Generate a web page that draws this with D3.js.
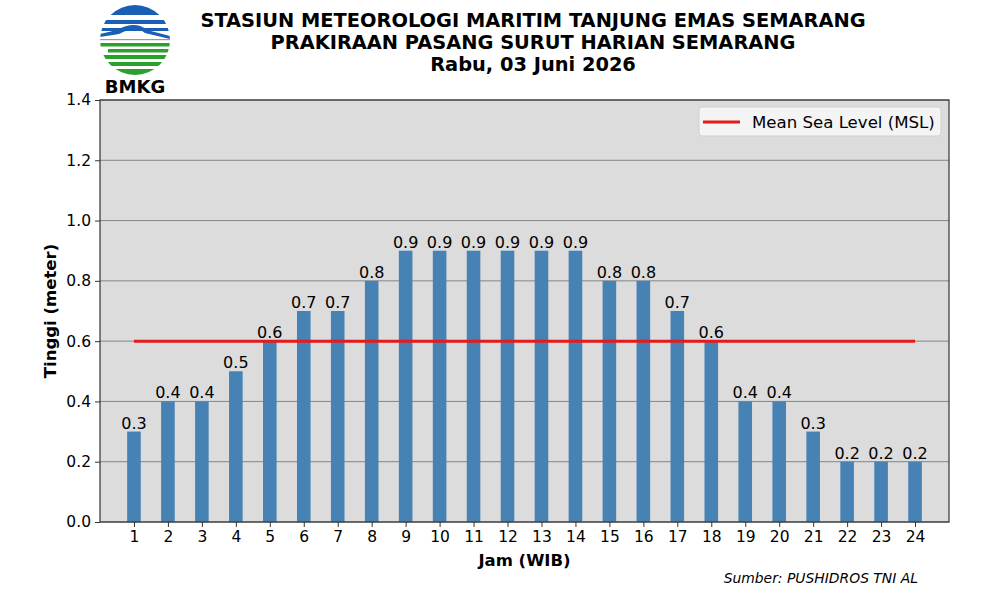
<!DOCTYPE html>
<html>
<head>
<meta charset="utf-8">
<script src="https://cdn.jsdelivr.net/npm/d3@7"></script>
<style>
  body { margin: 0; background: #fff; }
  svg text { font-family: "DejaVu Sans", sans-serif; }
</style>
</head>
<body>
<div id="chart"></div>
<script>
// data
const hours = d3.range(1, 25);
const tinggi = [0.3, 0.4, 0.4, 0.5, 0.6, 0.7, 0.7, 0.8, 0.9, 0.9, 0.9, 0.9,
                0.9, 0.9, 0.8, 0.8, 0.7, 0.6, 0.4, 0.4, 0.3, 0.2, 0.2, 0.2];
const msl = 0.6;
const yTicks = [0, 0.2, 0.4, 0.6, 0.8, 1.0, 1.2, 1.4];
const titles = ["STASIUN METEOROLOGI MARITIM TANJUNG EMAS SEMARANG",
                "PRAKIRAAN PASANG SURUT HARIAN SEMARANG",
                "Rabu, 03 Juni 2026"];

/** CONSTANTS */
const width = 1000, height = 600;
const margins = {top: 100, bottom: 78, left: 100, right: 51};

const svg = d3.select("#chart").append("svg")
  .attr("width", width).attr("height", height);

/** SCALES */
const xScale = d3.scaleLinear().domain([0, 25]).range([margins.left, width - margins.right]);
const yScale = d3.scaleLinear().domain([0, 1.4]).range([height - margins.bottom, margins.top]);
const barW = xScale(0.4) - xScale(0);

// plot background
svg.append("rect")
  .attr("x", margins.left).attr("y", margins.top)
  .attr("width", xScale(25) - xScale(0)).attr("height", yScale(0) - yScale(1.4))
  .attr("fill", "#dcdcdc");

// grid
svg.selectAll("line.grid")
  .data(yTicks)
  .join("line")
  .attr("class", "grid")
  .attr("x1", xScale(0)).attr("x2", xScale(25))
  .attr("y1", d => yScale(d)).attr("y2", d => yScale(d))
  .attr("stroke", "#858585").attr("stroke-width", 1);

// bars
svg.selectAll("rect.bar")
  .data(hours)
  .join("rect")
  .attr("class", "bar")
  .attr("x", (d) => xScale(d) - barW / 2)
  .attr("y", (d, i) => yScale(tinggi[i]))
  .attr("width", barW)
  .attr("height", (d, i) => yScale(0) - yScale(tinggi[i]))
  .attr("fill", "#4682b4");

// bar labels
svg.selectAll("text.val")
  .data(hours)
  .join("text")
  .attr("class", "val")
  .attr("x", d => xScale(d))
  .attr("y", (d, i) => yScale(tinggi[i]) - 3)
  .attr("text-anchor", "middle")
  .attr("font-size", 16)
  .text((d, i) => tinggi[i].toFixed(1));

// MSL line
svg.append("line")
  .attr("x1", xScale(1)).attr("x2", xScale(24))
  .attr("y1", yScale(msl)).attr("y2", yScale(msl))
  .attr("stroke", "#e41a1c").attr("stroke-width", 3);

// axes
const xAxis = svg.append("g")
  .attr("transform", `translate(0,${yScale(0)})`)
  .call(d3.axisBottom(xScale).tickValues(hours).tickSize(5).tickPadding(4).tickFormat(d3.format("d")));
const yAxis = svg.append("g")
  .attr("transform", `translate(${xScale(0)},0)`)
  .call(d3.axisLeft(yScale).tickValues(yTicks).tickSize(5).tickPadding(4).tickFormat(d3.format(".1f")));
[xAxis, yAxis].forEach(a => {
  a.select(".domain").remove();
  a.selectAll("text").attr("font-size", 15.5).attr("fill", "#000");
  a.selectAll("line").attr("stroke", "#333");
});

// frame
svg.append("rect")
  .attr("x", xScale(0)).attr("y", yScale(1.4))
  .attr("width", xScale(25) - xScale(0)).attr("height", yScale(0) - yScale(1.4))
  .attr("fill", "none").attr("stroke", "#333").attr("stroke-width", 1.2);

// axis labels
svg.append("text")
  .attr("x", (xScale(0) + xScale(25)) / 2).attr("y", 566)
  .attr("text-anchor", "middle").attr("font-size", 16.5).attr("font-weight", "bold")
  .text("Jam (WIB)");
svg.append("text")
  .attr("transform", `translate(56,${(yScale(0) + yScale(1.4)) / 2}) rotate(-90)`)
  .attr("text-anchor", "middle").attr("font-size", 16.5).attr("font-weight", "bold")
  .text("Tinggi (meter)");

// titles
svg.selectAll("text.title")
  .data(titles)
  .join("text")
  .attr("class", "title")
  .attr("x", 533).attr("y", (d, i) => 27 + i * 22)
  .attr("text-anchor", "middle").attr("font-size", 19.4).attr("font-weight", "bold")
  .text(d => d);

// source
svg.append("text")
  .attr("x", 918).attr("y", 583)
  .attr("text-anchor", "end").attr("font-size", 13.9).attr("font-style", "italic")
  .text("Sumber: PUSHIDROS TNI AL");

// legend
const leg = svg.append("g");
leg.append("rect")
  .attr("x", 699).attr("y", 107).attr("width", 242).attr("height", 29).attr("rx", 3)
  .attr("fill", "#f4f4f4").attr("stroke", "#d0d0d0");
leg.append("line")
  .attr("x1", 703).attr("x2", 740).attr("y1", 122).attr("y2", 122)
  .attr("stroke", "#e41a1c").attr("stroke-width", 3);
leg.append("text")
  .attr("x", 752).attr("y", 128).attr("font-size", 16.6)
  .text("Mean Sea Level (MSL)");

// logo
const logo = svg.append("g");
const cx = 135, cy = 40, r = 35;
logo.append("clipPath").attr("id", "logoClip")
  .append("circle").attr("cx", cx).attr("cy", cy).attr("r", r);
const lg = logo.append("g").attr("clip-path", "url(#logoClip)");
// blue arcs (top)
[[0, 10], [15, 4], [23, 3]].forEach(([dy, h]) => {
  lg.append("rect").attr("x", cx - r).attr("y", cy - r + dy).attr("width", 2 * r).attr("height", h).attr("fill", "#1a5fb4");
});
lg.append("path")
  .attr("d", `M${cx - r},${cy - 6} L${cx - 18},${cy - 10} Q${cx},${cy - 20} ${cx + 12},${cy - 10} L${cx + r},${cy - 4} L${cx + r},${cy - 1} L${cx + 10},${cy - 7} Q${cx},${cy - 15} ${cx - 16},${cy - 6} L${cx - r},${cy - 3} Z`)
  .attr("fill", "#1a5fb4");
lg.append("rect").attr("x", cx - r).attr("y", cy - 1).attr("width", 2 * r).attr("height", 1.2).attr("fill", "#999");
// green stripes (bottom)
[[3, 3.5], [9, 3.5], [15, 4], [22, 4], [29, 6]].forEach(([dy, h], i) => {
  lg.append("rect").attr("x", cx - r + (i % 2) * 8).attr("y", cy + dy).attr("width", 2 * r).attr("height", h).attr("fill", "#2ca02c");
});
logo.append("text")
  .attr("x", cx).attr("y", 93).attr("text-anchor", "middle")
  .attr("font-family", "Liberation Sans, Arial, sans-serif")
  .attr("font-size", 18).attr("font-weight", "bold")
  .text("BMKG");
</script>
</body>
</html>
